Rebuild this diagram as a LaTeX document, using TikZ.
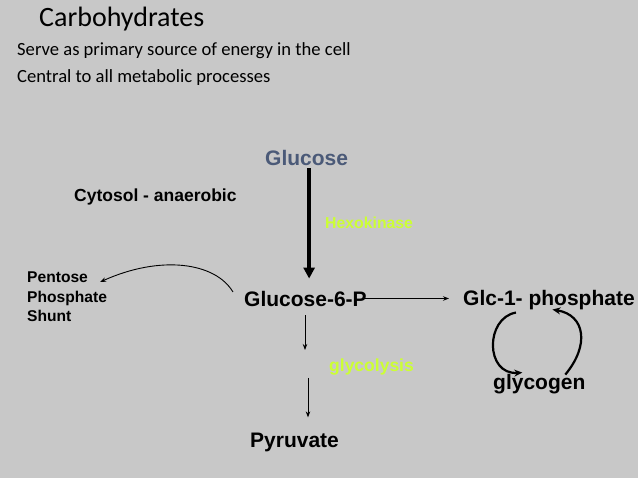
\documentclass[tikz,border=0pt]{standalone}
\usepackage{fontspec}
\setmainfont{Carlito}
\newfontfamily\labelfont{Liberation Sans}
\usetikzlibrary{arrows.meta,calc}
\definecolor{slide}{HTML}{C8C8C8}
\definecolor{sugar}{HTML}{4B5A78}
\definecolor{enzyme}{HTML}{CCFF33}

\begin{document}
\begin{tikzpicture}[x=1pt,y=-1pt,
  every node/.append style={inner sep=0pt, anchor=base west},
  heading/.style={font=\fontsize{28}{32}\selectfont},
  body/.style={font=\fontsize{18.6}{22}\selectfont},
  met/.style={font=\labelfont\bfseries\fontsize{21}{24}\selectfont},
  side/.style={font=\labelfont\bfseries\fontsize{15.6}{19.5}\selectfont, align=left},
  enz/.style={font=\labelfont\bfseries\fontsize{15.8}{19}\selectfont, text=enzyme},
  thin arrow/.style={-{Stealth[length=6pt,width=4.5pt]}, line width=0.8pt},
  cyc/.style={-{Stealth[length=8pt,width=7pt]}, line width=2.2pt},
]
\fill[slide] (0,0) rectangle (638,478);
\useasboundingbox (0,0) rectangle (638,478);

% Heading
\node[heading] (title) at (39,27) {Carbohydrates};
\node[body] (line1) at (17,56) {Serve as primary source of energy in the cell};
\node[body] (line2) at (17,83) {Central to all metabolic processes};

% Metabolites
\node[met, text=sugar] (glucose) at (265,166) {Glucose};
\node[side, font=\labelfont\bfseries\fontsize{17.5}{20}\selectfont] (cytosol) at (74,202) {Cytosol - anaerobic};
\node[enz] (hexo) at (325,229) {Hexokinase};
\node[met] (gsixp) at (244,307) {Glucose-6-P};
\node[met] (glcone) at (463,306) {Glc-1- phosphate};
\node[met] (glycogen) at (493,390) {glycogen};
\node[enz, font=\labelfont\bfseries\fontsize{17.5}{20}\selectfont] (glyco) at (329,372) {glycolysis};
\node[met] (pyruvate) at (250,448) {Pyruvate};
\node[side, anchor=north west] (pentose) at (27,272) {Pentose\\Phosphate\\Shunt};

% Glucose to Glucose-6-P
\draw[line width=3.5pt, -{Triangle[length=11pt,width=11pt]}, shorten <=2pt, shorten >=13pt]
  ([xshift=2.5pt]glucose.south) -- ([xshift=2.5pt]glucose.south |- gsixp.north);

% Glucose-6-P to Glc-1- phosphate
\draw[thin arrow, shorten <=-2pt, shorten >=14pt] ([yshift=1pt]gsixp.east) -- ([yshift=1pt]gsixp.east -| glcone.west);

% glycolysis
\coordinate (step1) at (305,350);
\coordinate (step2) at (308,378);
\draw[thin arrow, shorten <=8pt] (gsixp.south -| step1) -- (step1);
\draw[thin arrow, shorten >=16pt] (step2) -- (step2 |- pyruvate.north);

% Pentose shunt
\draw[line width=0.9pt, -{Stealth[length=6pt,width=4.5pt]}]
  ([xshift=-11pt,yshift=7.5pt]gsixp.west) .. controls (215,262) and (160,255) .. ([xshift=-7pt,yshift=-10pt]pentose.north east);

% Glycogen cycle
\draw[cyc] ([xshift=-33pt,yshift=-2pt]glcone.south) .. controls (485,318) and (485,375) .. ([xshift=-17pt,yshift=2pt]glycogen.north);
\draw[cyc] ([xshift=26pt]glycogen.north) .. controls (590,345) and (585,315) .. ([xshift=3.5pt,yshift=1pt]glcone.south);

\end{tikzpicture}
\end{document}
